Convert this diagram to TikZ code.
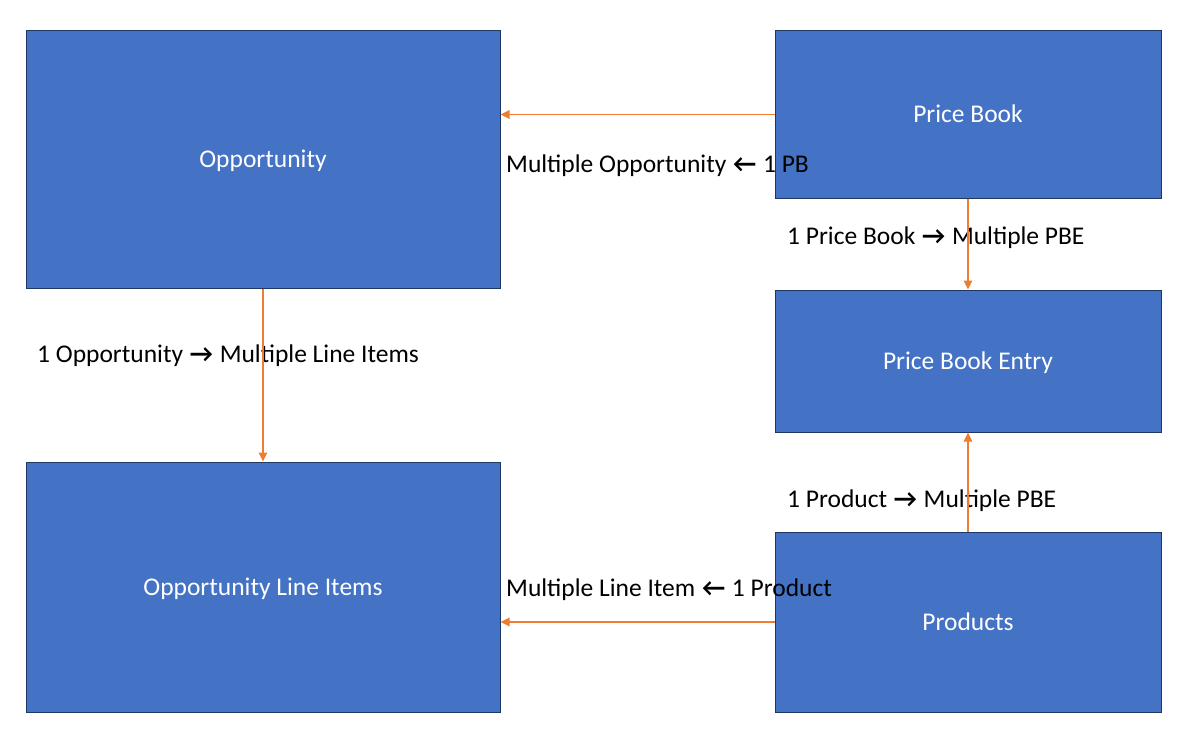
\documentclass[tikz,border=0pt]{standalone}
\usepackage{fontspec}
\setmainfont{Carlito}
\usetikzlibrary{arrows.meta}
\definecolor{boxblue}{HTML}{4472C4}
\definecolor{boxedge}{HTML}{1F3763}
\definecolor{arrorange}{HTML}{ED7D31}
\newcommand{\rarr}{{\bfseries\kern1pt→\kern1pt}}
\newcommand{\larr}{{\bfseries\kern1pt←\kern1pt}}
\begin{document}
\begin{tikzpicture}[x=1pt,y=-1pt,
  ent/.style={draw=boxedge, line width=1pt, fill=boxblue, text=white, inner sep=0pt,
    text height=16.4pt, text depth=0pt, font=\fontsize{25.5}{30}\selectfont},
  lbl/.style={anchor=base west, inner sep=0pt, text=black, font=\fontsize{25.5}{30}\selectfont},
  conn/.style={draw=arrorange, line width=1.6pt, -{Triangle[length=9pt,width=8.5pt]}}]
\useasboundingbox (0,0) rectangle (1200,733);
\fill[white] (0,0) rectangle (1200,733);
% boxes
\node[ent, minimum width=474pt, minimum height=257pt] (opp) at (263,159.5) {Opportunity};
\node[ent, minimum width=386pt, minimum height=167pt] (pb) at (968,114.5) {Price Book};
\node[ent, minimum width=386pt, minimum height=142pt] (pbe) at (968,361) {Price Book Entry};
\node[ent, minimum width=474pt, minimum height=250pt] (oli) at (263,587) {Opportunity Line Items};
\node[ent, minimum width=386pt, minimum height=180pt] (prod) at (968,622) {Products};
% labels
\node[lbl] (l1) at (506,173) {Multiple Opportunity \larr{} 1 PB};
\node[lbl] (l2) at (787,244) {1 Price Book \rarr{} Multiple PBE};
\node[lbl] (l3) at (37,362) {1 Opportunity \rarr{} Multiple Line Items};
\node[lbl] (l4) at (787,507) {1 Product \rarr{} Multiple PBE};
\node[lbl] (l5) at (506,596) {Multiple Line Item \larr{} 1 Product};
% connectors
\draw[conn] (pb.west) -- (pb.west -| opp.east);
\draw[conn] (pb.south) -- (pbe.north);
\draw[conn] (opp.south) -- (oli.north);
\draw[conn] (prod.north) -- (pbe.south);
\draw[conn] (prod.west) -- (prod.west -| oli.east);
\end{tikzpicture}
\end{document}
